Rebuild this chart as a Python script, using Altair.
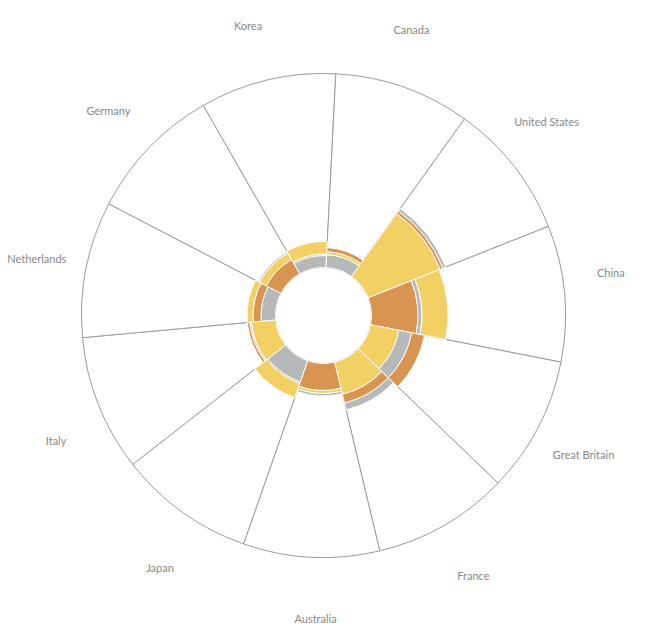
import math
import altair as alt
import pandas as pd

countries = ["Korea", "Canada", "United States", "China", "Great Britain", "France",
             "Australia", "Japan", "Italy", "Netherlands", "Germany"]

# stacking order of each country's rings, inner -> outer
seg_medals = [
    ["Silver", "Bronze", "Gold"],    # Korea
    ["Silver", "Gold", "Bronze"],    # Canada
    ["Gold", "Bronze", "Silver"],    # United States
    ["Bronze", "Silver", "Gold"],    # China
    ["Gold", "Silver", "Bronze"],    # Great Britain
    ["Gold", "Bronze", "Silver"],    # France
    ["Bronze", "Gold", "Silver"],    # Australia
    ["Silver", "Bronze", "Gold"],    # Japan
    ["Gold", "Silver", "Bronze"],    # Italy
    ["Silver", "Bronze", "Gold"],    # Netherlands
    ["Bronze", "Gold", "Silver"],    # Germany
]
# ring sizes (same order as above)
seg_values = [
    [12.0, 1.5, 12.5],
    [13.0, 3.0, 4.0],
    [77.5, 3.0, 3.0],
    [46.5, 4.0, 26.0],
    [29.0, 13.0, 13.0],
    [33.0, 9.0, 7.0],
    [27.0, 3.0, 2.5],
    [22.5, 1.5, 15.0],
    [24.5, 1.5, 2.5],
    [14.5, 8.0, 6.0],
    [16.5, 7.5, 1.5],
]
scale_max = 194

medal_names = ["Gold", "Silver", "Bronze"]
medal_colors = ["#F3D064", "#B6B9B9", "#D99451"]

n = len(countries)
rows = []
for i, (c, ms, vs) in enumerate(zip(countries, seg_medals, seg_values)):
    acc = 0.0
    for m, v in zip(ms, vs):
        rows.append({"country": c, "idx": i, "idx1": i + 1, "medal": m,
                     "r0": acc, "r1": acc + v})
        acc += v
bars = pd.DataFrame(rows)

bg = pd.DataFrame({"country": countries,
                   "idx": list(range(n)),
                   "idx1": list(range(1, n + 1)),
                   "r0": [0] * n,
                   "r1": [scale_max] * n,
                   "mid": [i + 0.5 for i in range(n)]})

start = math.radians(-29.8)
theta_scale = alt.Scale(domain=[0, n], range=[start, start + 2 * math.pi])
text_start = start - math.radians(1.5)
r_scale = alt.Scale(type="linear", domain=[0, scale_max], range=[48, 242], zero=False)

background = alt.Chart(bg).mark_arc(fill="white", stroke="#9B9B9B", strokeWidth=1).encode(
    theta=alt.Theta("idx:Q", scale=theta_scale),
    theta2="idx1:Q",
    radius=alt.Radius("r0:Q", scale=r_scale),
    radius2="r1:Q",
)

rings = alt.Chart(bars).mark_arc(stroke="white", strokeWidth=1).encode(
    theta=alt.Theta("idx:Q", scale=theta_scale),
    theta2="idx1:Q",
    radius=alt.Radius("r0:Q", scale=r_scale),
    radius2="r1:Q",
    color=alt.Color("medal:N", scale=alt.Scale(domain=medal_names, range=medal_colors), legend=None),
)

label_base = alt.Chart(bg).transform_calculate(
    sx=f"sin(2*PI*datum.mid/{n} + ({text_start}))",
    cy=f"cos(2*PI*datum.mid/{n} + ({text_start}))",
)
label_enc = dict(
    x=alt.X("sx:Q", scale=alt.Scale(domain=[-1, 1], range=[19.8, 599.8]), axis=None),
    y=alt.Y("cy:Q", scale=alt.Scale(domain=[-1, 1], range=[595.8, 11.8]), axis=None),
    text="country:N",
)
labels_top = label_base.transform_filter("datum.cy >= 0").mark_text(
    font="Lato", fontSize=11, color="#878787", dy=-8).encode(**label_enc)
labels_bottom = label_base.transform_filter("datum.cy < 0").mark_text(
    font="Lato", fontSize=11, color="#878787", dy=11).encode(**label_enc)

chart = alt.layer(background, rings, labels_top, labels_bottom).properties(
    width=621, height=605,
    padding={"left": 5, "top": 5, "right": 5, "bottom": 16},
    autosize="none", background="white"
).configure_view(stroke=None)

chart.save("out.html", embed_options={"renderer": "svg", "actions": False})
